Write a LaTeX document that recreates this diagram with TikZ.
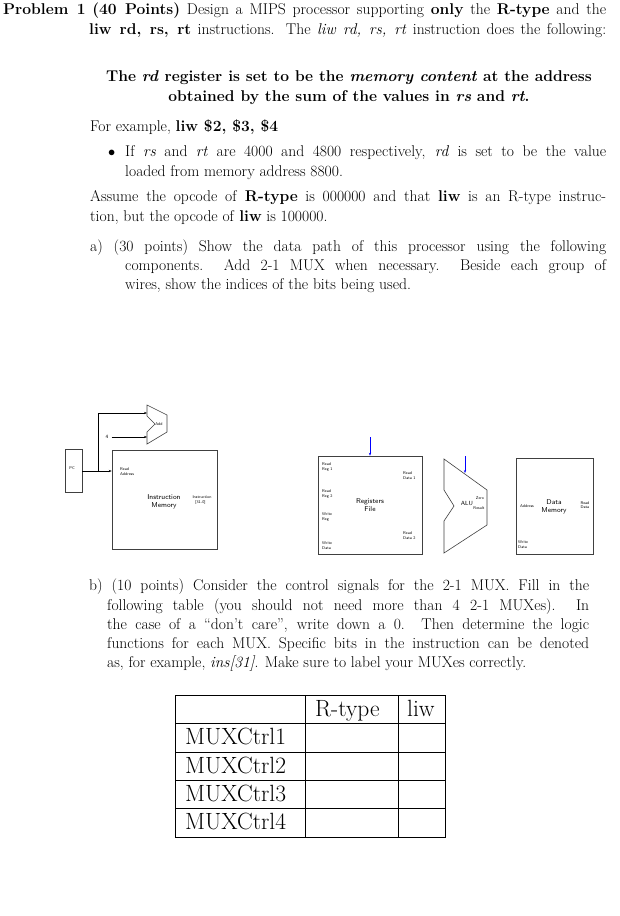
\documentclass[tikz,border=0pt]{standalone}
\usetikzlibrary{arrows.meta}
\newcommand{\jline}[2]{\hbox to #1pt{#2}}
\begin{document}
\begin{tikzpicture}[x=1pt,y=-1pt,
  txt/.style={anchor=base west,inner sep=0pt,font=\fontsize{15.6}{19}\selectfont},
  lbl/.style={font=\sffamily\fontsize{4}{4.5}\selectfont,align=left,inner sep=0pt},
  big/.style={font=\sffamily\fontsize{7}{8}\selectfont,align=center,inner sep=0pt},
  blk/.style={draw=black!75,line width=0.6pt},
  wire/.style={draw,line width=0.5pt,-{Stealth[length=3pt]}},
  ctl/.style={draw=blue,line width=0.6pt,-{Stealth[length=3pt]}},
  tbl/.style={font=\fontsize{23.5}{25}\selectfont,anchor=base west,inner sep=0pt}]
\useasboundingbox (0,0) rectangle (619,916);
% text
\node[txt] (l1) at (3,14) {\jline{603}{\textbf{Problem 1} \textbf{(40 Points)} Design a MIPS processor supporting \textbf{only} the \textbf{R-type} and the}};
\node[txt] (l2) at (89,34) {\jline{517}{\textbf{liw rd, rs, rt} instructions. The \textit{liw rd, rs, rt} instruction does the following:}};
\node[txt,anchor=base] (l3) at (349,81) {\textbf{The \textit{rd} register is set to be the \textit{memory content} at the address}};
\node[txt,anchor=base] (l4) at (349,101) {\textbf{obtained by the sum of the values in \textit{rs} and \textit{rt}.}};
\node[txt] (l5) at (90,131) {For example, \textbf{liw \$2, \$3, \$4}};
\node[txt] (bu) at (108,156) {$\bullet$};
\node[txt] (l6) at (125,156) {\jline{481}{If \textit{rs} and \textit{rt} are 4000 and 4800 respectively, \textit{rd} is set to be the value}};
\node[txt] (l7) at (125,176) {loaded from memory address 8800.};
\node[txt] (l8) at (90,201) {\jline{516}{Assume the opcode of \textbf{R-type} is 000000 and that \textbf{liw} is an R-type instruc-}};
\node[txt] (l9) at (90,221) {tion, but the opcode of \textbf{liw} is 100000.};
\node[txt] (l10) at (90,251) {\jline{516}{a) (30 points) Show the data path of this processor using the following}};
\node[txt] (l11) at (125,270) {\jline{481}{components.\ \ Add 2-1 MUX when necessary.\ \ Beside each group of}};
\node[txt] (l12) at (125,289) {wires, show the indices of the bits being used.};
\node[txt] (m1) at (89,590) {\jline{500}{b) (10 points) Consider the control signals for the 2-1 MUX. Fill in the}};
\node[txt] (m2) at (107,610) {\jline{482}{following table (you should not need more than 4 2-1 MUXes).\ \ In}};
\node[txt] (m3) at (107,629) {\jline{482}{the case of a ``don't care'', write down a 0.\ \ Then determine the logic}};
\node[txt] (m4) at (107,648) {\jline{482}{functions for each MUX. Specific bits in the instruction can be denoted}};
\node[txt] (m5) at (107,667) {as, for example, \textit{ins[31]}. Make sure to label your MUXes correctly.};
% diagram
\node[blk,minimum width=17,minimum height=43,inner sep=0] (pc) at (73.5,471) {};
\node[lbl] at (72,468) {PC};
\node[blk,minimum width=105,minimum height=99,inner sep=0] (im) at (164.5,499.5) {};
\node[lbl,anchor=north west] (ra) at (120,468) {Read\\Address};
\node[big] (imt) at (164,502) {Instruction\\Memory};
\node[lbl] (ins) at (202,500) {Instruction\\\ \ [31-0]};
\coordinate (br) at (98,471);
\draw[wire] (pc.east |- br) -- (im.west |- br);
\draw[wire] (br) -- (98,413) -- (147,413);
\draw[blk] (147,405) -- (167,415) -- (167,432) -- (147,444) -- (147,432) -- (155,424) -- (147,416) -- cycle;
\node[lbl] (addt) at (159,424) {Add};
\node[font=\sffamily\fontsize{5}{6}\selectfont,inner sep=0] (four) at (107,437) {4};
\draw[wire] (four.east) ++(3,0) -- (147,437);
% register file
\node[blk,minimum width=104,minimum height=98,inner sep=0] (rf) at (370,505) {};
\node[lbl,anchor=north west] at (322,463) {Read\\Reg 1};
\node[lbl,anchor=north west] at (322,490) {Read\\Reg 2};
\node[lbl,anchor=north west] at (322,513) {Write\\Reg};
\node[lbl,anchor=north west] at (322,542) {Write\\Data};
\node[lbl,anchor=north west] at (403,472) {Read\\Data 1};
\node[lbl,anchor=north west] at (403,532) {Read\\Data 2};
\node[big] at (370,505) {Registers\\File};
\draw[ctl] (370,437) -- (rf.north);
% ALU
\draw[blk] (444,459) -- (487,490) -- (487,525) -- (444,553) -- (444,521) -- (454,506) -- (444,490) -- cycle;
\node[big,font=\sffamily\fontsize{6}{7}\selectfont] at (467,503) {ALU};
\node[lbl] at (480,498) {Zero};
\node[lbl] at (479,508) {Result};
\draw[ctl] (465,456) -- (465,473);
% data memory
\node[blk,minimum width=77,minimum height=96,inner sep=0] (dm) at (554.5,506) {};
\node[lbl] at (527,506) {Address};
\node[big] at (554,507) {Data\\Memory};
\node[lbl] at (585,505) {Read\\Data};
\node[lbl,anchor=north west] at (518,541) {Write\\Data};
% table
\draw[line width=0.5pt] (175,695) rectangle (445,837);
\foreach \y in {723,752,780,808} \draw[line width=0.5pt] (175,\y) -- (445,\y);
\draw[line width=0.5pt] (305,695) -- (305,837);
\draw[line width=0.5pt] (398,695) -- (398,837);
\node[tbl] at (315,716) {R-type};
\node[tbl] at (407,716) {liw};
\node[tbl] at (185,744) {MUXCtrl1};
\node[tbl] at (185,773) {MUXCtrl2};
\node[tbl] at (185,801) {MUXCtrl3};
\node[tbl] at (185,829) {MUXCtrl4};
\end{tikzpicture}
\end{document}
